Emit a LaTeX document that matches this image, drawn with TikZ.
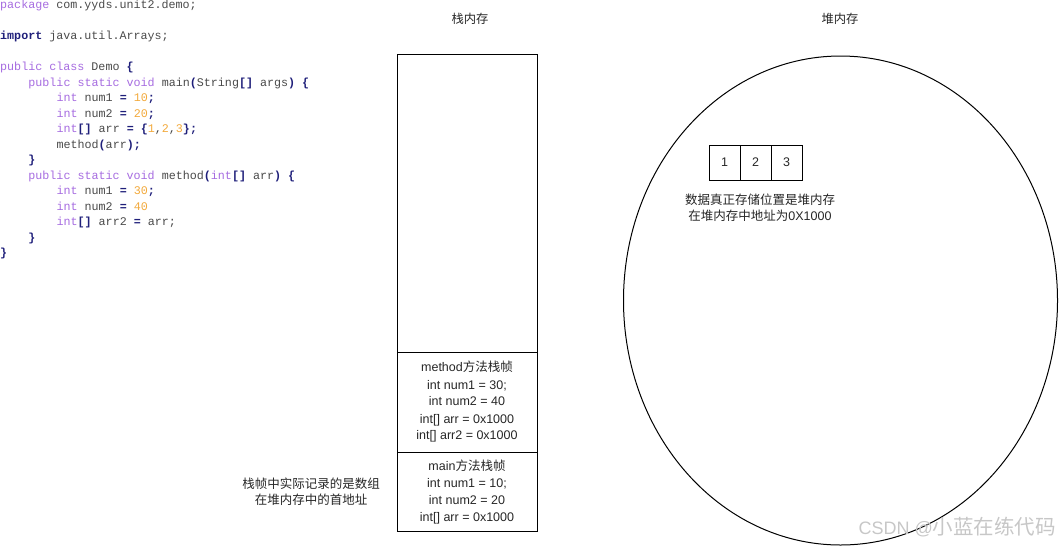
\documentclass[tikz,border=0pt]{standalone}
\usepackage{fontspec}
\setmainfont{Liberation Sans}
\setmonofont{Liberation Mono}
\newfontfamily\cjk{Noto Sans CJK SC}
\usepackage{tikz}
\usetikzlibrary{shapes.geometric}

\definecolor{kwcol}{HTML}{A66CE0}
\definecolor{opcol}{HTML}{1F1F7A}
\definecolor{numcol}{HTML}{F2A93B}
\definecolor{txtcol}{HTML}{4A4A4A}
\newcommand{\kw}[1]{\textcolor{kwcol}{#1}}
\newcommand{\op}[1]{\textcolor{opcol}{\bfseries #1}}
\newcommand{\nm}[1]{\textcolor{numcol}{#1}}

\begin{document}
\begin{tikzpicture}[x=1pt,y=-1pt,
                    code/.style={anchor=base west,inner sep=0,text=txtcol,font=\ttfamily\fontsize{11.7}{15.5}\selectfont},
                    frame/.style={draw=black,line width=1pt,minimum width=140,inner sep=0,align=center,
                                  font=\fontsize{12.5}{17}\selectfont,text=black!85},
                    cell/.style={draw=black,line width=1pt,minimum width=31,minimum height=35,inner sep=0,
                                 font=\fontsize{12.5}{15}\selectfont,text=black!85},
                    title/.style={font=\cjk\fontsize{12.3}{15}\selectfont,text=black!85,inner sep=0},
                    note/.style={align=center,inner sep=0,font=\cjk\fontsize{12.5}{16}\selectfont,text=black!85}
                ]
    \useasboundingbox (0,0) rectangle (1060,547);

    % source code
    \node[code] (c0)  at (0,8)     {\kw{package} com.yyds.unit2.demo;};
    \node[code] (c2)  at (0,39)    {\op{import} java.util.Arrays;};
    \node[code] (c4)  at (0,70)    {\kw{public class} Demo \op{\{}};
    \node[code] (c5)  at (28.2,86) {\kw{public static void} main\op{(}String\op{[]} args\op{)} \op{\{}};
    \node[code] (c6)  at (56.4,101) {\kw{int} num1 \op{=} \nm{10}\op{;}};
    \node[code] (c7)  at (56.4,117) {\kw{int} num2 \op{=} \nm{20}\op{;}};
    \node[code] (c8)  at (56.4,132) {\kw{int}\op{[]} arr \op{=} \op{\{}\nm{1},\nm{2},\nm{3}\op{\};}};
    \node[code] (c9)  at (56.4,148) {method\op{(}arr\op{);}};
    \node[code] (c10) at (28.2,163) {\op{\}}};
    \node[code] (c11) at (28.2,179) {\kw{public static void} method\op{(}\kw{int}\op{[]} arr\op{)} \op{\{}};
    \node[code] (c12) at (56.4,194) {\kw{int} num1 \op{=} \nm{30}\op{;}};
    \node[code] (c13) at (56.4,210) {\kw{int} num2 \op{=} \nm{40}};
    \node[code] (c14) at (56.4,225) {\kw{int}\op{[]} arr2 \op{=} arr;};
    \node[code] (c15) at (28.2,241) {\op{\}}};
    \node[code] (c16) at (0,256)   {\op{\}}};

    % stack
    \node[title] (stacktitle) at (470,19) {栈内存};
    \node[frame,minimum height=298] (free) at (467,203) {};
    \node[frame,minimum height=100] (methodframe) at (467,402)
        {method{\cjk 方法栈帧}\\int num1 = 30;\\int num2 = 40\\int[] arr = 0x1000\\int[] arr2 = 0x1000};
    \node[frame,minimum height=79] (mainframe) at (467,491.5)
        {main{\cjk 方法栈帧}\\int num1 = 10;\\int num2 = 20\\int[] arr = 0x1000};
    \node[note] (stacknote) at (311,492) {栈帧中实际记录的是数组\\在堆内存中的首地址};

    % heap
    \node[title] (heaptitle) at (840,19) {堆内存};
    \node[draw=black,line width=1pt,ellipse,inner sep=0,minimum width=434,minimum height=489] (heap) at (840.5,300.5) {};
    \foreach \v in {1,2,3}
        {
        \node[cell] (a\v) at (693.5+31*\v,162.5) {\v};
    }
    \node[note] (heapnote) at (760,208) {数据真正存储位置是堆内存\\在堆内存中地址为{\fontspec{Liberation Sans}0X1000}};

    \node[anchor=base east,inner sep=0,text=black!22,font=\fontsize{18}{20}\selectfont] (mark) at (1056,534)
        {CSDN @{\cjk\fontsize{20.5}{22}\selectfont 小蓝在练代码}};
\end{tikzpicture}
\end{document}
